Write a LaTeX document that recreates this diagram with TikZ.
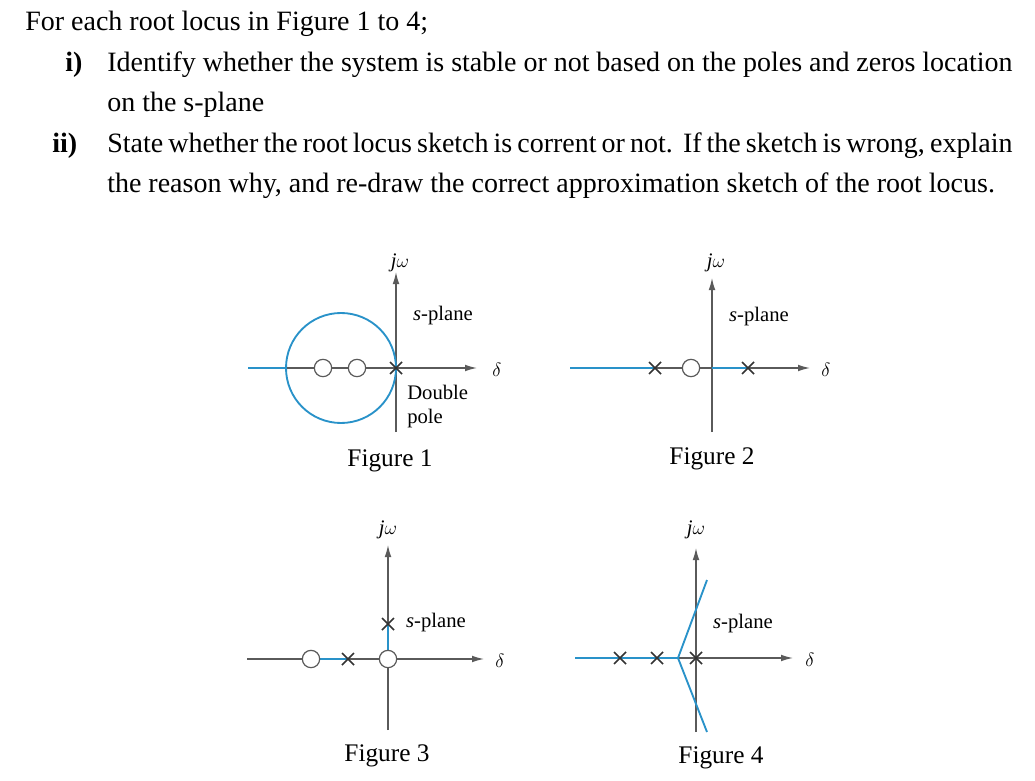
\documentclass[tikz,border=0pt]{standalone}
\usepackage{fontspec}
\setmainfont{Liberation Serif}
\usetikzlibrary{arrows.meta,calc}
\definecolor{lb}{RGB}{41,146,201}
\definecolor{ax}{RGB}{90,90,90}
\begin{document}
\begin{tikzpicture}[x=0.75pt,y=-0.75pt,
  axis/.style={draw=ax,line width=0.9pt},
  axarrow/.style={axis,-{Latex[length=9pt,width=5pt]}},
  loc/.style={draw=lb,line width=1.4pt},
  zero/.style={circle,draw=ax,fill=white,line width=0.9pt,minimum size=13pt,inner sep=0pt},
  pole/.style={inner sep=0pt,minimum size=9pt},
  lab/.style={font=\fontsize{15.5}{17}\selectfont,inner sep=0pt},
  fig/.style={font=\fontsize{19}{22}\selectfont,inner sep=0pt},
  big/.style={font=\fontsize{21}{24}\selectfont,inner sep=0pt},
  txt/.style={font=\fontsize{21}{30}\selectfont,inner sep=0pt,align=justify,text width=679pt,anchor=north west}]
\useasboundingbox (0,0) rectangle (1035,781);
\newcommand{\pcross}[1]{\draw[line width=1.2pt,black!80] ($(#1)+(-6,-6)$) -- ($(#1)+(6,6)$) ($(#1)+(-6,6)$) -- ($(#1)+(6,-6)$);}
% text
\node[big,anchor=west] (t0) at (25,24) {For each root locus in Figure 1 to 4;};
\node[big,anchor=west] (i1) at (65,65) {\bfseries i)};
\node[txt] (p1) at (107,52) {Identify whether the system is stable or not based on the poles and zeros location on the s-plane};
\node[big,anchor=west] (i2) at (52,146) {\bfseries ii)};
\node[txt] (p2) at (107,133) {State whether the root locus sketch is corrent or not.\ \ If the sketch is wrong, explain the reason why, and re-draw the correct approximation sketch of the root locus.};
% Figure 1
\coordinate (o1) at (396,368);
\coordinate (l1) at (248,368);
\coordinate (r1) at (477,368);
\coordinate (b1) at (396,432);
\coordinate (u1) at (396,272);
\draw[axis] (l1) -- (o1);
\draw[axarrow] (o1) -- (r1);
\draw[axarrow] (b1) -- (u1);
\draw[loc] (341,368) circle (55);
\draw[loc] (l1) -- (286,368);
\node[zero] (z11) at (323,368) {};
\node[zero] (z12) at (357,368) {};
\node[pole] (p11) at (o1) {};
\pcross{o1}
\node[lab,font=\fontsize{15.5}{17}\selectfont\itshape] (jw1) at (400,263) {j$\omega$};
\node[lab] (s1) at (443,316) {\textit{s}-plane};
\node[lab] (d1) at (497,370) {$\delta$};
\node[lab,anchor=west,align=left,font=\fontsize{15.5}{18}\selectfont] (dp) at (407,407) {Double\\pole};
\node[fig] (f1) at (390,461) {Figure 1};
% Figure 2
\coordinate (o2) at (712,368);
\coordinate (l2) at (570,368);
\coordinate (r2) at (810,368);
\draw[axarrow] (l2) -- (r2);
\draw[axarrow] (712,432) -- (712,278);
\draw[loc] (l2) -- (655,368);
\draw[loc] (o2) -- (748,368);
\coordinate (p21) at (655,368);
\coordinate (p22) at (748,368);
\pcross{p21}\pcross{p22}
\node[zero] (z21) at (691,368) {};
\node[lab,font=\fontsize{15.5}{17}\selectfont\itshape] (jw2) at (716,263) {j$\omega$};
\node[lab] (s2) at (759,317) {\textit{s}-plane};
\node[lab] (d2) at (826,370) {$\delta$};
\node[fig] (f2) at (712,459) {Figure 2};
% Figure 3
\coordinate (o3) at (388,659);
\draw[axarrow] (247,659) -- (484,659);
\draw[axarrow] (388,730) -- (388,545);
\coordinate (p31) at (348,659);
\coordinate (p32) at (388,624);
\draw[loc] (311,659) -- (p31);
\draw[loc] (o3) -- (p32);
\pcross{p31}\pcross{p32}
\node[zero] (z31) at (311,659) {};
\node[zero] (z32) at (o3) {};
\node[lab,font=\fontsize{15.5}{17}\selectfont\itshape] (jw3) at (388,530) {j$\omega$};
\node[lab] (s3) at (436,623) {\textit{s}-plane};
\node[lab] (d3) at (500,661) {$\delta$};
\node[fig] (f3) at (387,756) {Figure 3};
% Figure 4
\coordinate (o4) at (696,658);
\draw[axarrow] (575,658) -- (793,658);
\draw[axarrow] (696,732) -- (696,548);
\coordinate (bk) at (678,658);
\draw[loc] (575,658) -- (bk);
\draw[loc] (707,580) -- (bk) -- (707,732);
\coordinate (p41) at (620,658);
\coordinate (p42) at (657,658);
\pcross{p41}\pcross{p42}\pcross{o4}
\node[lab,font=\fontsize{15.5}{17}\selectfont\itshape] (jw4) at (696,530) {j$\omega$};
\node[lab] (s4) at (743,624) {\textit{s}-plane};
\node[lab] (d4) at (810,660) {$\delta$};
\node[fig] (f4) at (721,758) {Figure 4};
\end{tikzpicture}
\end{document}
